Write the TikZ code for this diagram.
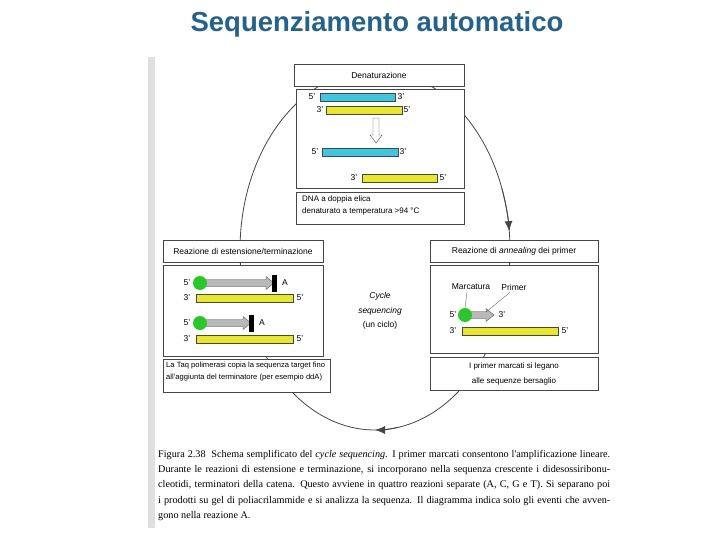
\documentclass[tikz,border=0pt]{standalone}
\usepackage{fontspec}
\setmainfont{Liberation Sans}
\newfontfamily\capfont{Liberation Serif}
\usetikzlibrary{arrows.meta, shapes.arrows, calc}
\definecolor{titleBlue}{RGB}{36, 98, 142}
\definecolor{dnaCyan}{RGB}{60, 200, 225}
\definecolor{dnaYellow}{RGB}{232, 232, 40}
\definecolor{markGreen}{RGB}{40, 200, 40}
\definecolor{primerGrey}{RGB}{185, 185, 185}
\definecolor{lineGrey}{RGB}{70, 70, 70}
\newcommand{\primerarrow}[3]{% start x, y, end x
    \filldraw[draw=lineGrey, fill=primerGrey, line width=0.3pt]
        (#1,#2-3.5) -- (#3-8,#2-3.5) -- (#3-8,#2-6.5) -- (#3,#2) -- (#3-8,#2+6.5)
        -- (#3-8,#2+3.5) -- (#1,#2+3.5) -- cycle;}

\begin{document}
\begin{tikzpicture} [
        x=1pt, y=-1pt,
        box/.style={draw=lineGrey, fill=white, line width=0.7pt},
        lbl/.style={font=\fontsize{8.5}{10}\selectfont, inner sep=0pt},
        cyanbar/.style={draw=lineGrey, fill=dnaCyan, line width=0.4pt},
        yellbar/.style={draw=lineGrey, fill=dnaYellow, line width=0.4pt},
        label dot/.style={circle, fill=markGreen, minimum size=14pt, inner sep=0pt},
        stop/.style={fill=black, minimum width=5pt, minimum height=17pt, inner sep=0pt},
        cycle arrow/.style={lineGrey, line width=0.8pt, -{Latex[length=10pt,width=8pt]}}
    ]
        \useasboundingbox (0,0) rectangle (720,540);
        \node[font=\bfseries\fontsize{27.5}{29}\selectfont, text=titleBlue] (title) at (377,24) {Sequenziamento automatico};

        % scanned page
        \fill[white] (148,57) rectangle (612,528);
        \fill[black!12] (148,57) rectangle (155,528);

        % cycle
        \coordinate (cc) at (375,250);
        \draw[lineGrey, line width=0.8pt] (cc) ellipse [x radius=135, y radius=180];
        \draw[cycle arrow] ($(cc)+(-20:135 and 180)$) arc [start angle=-20, end angle=-6, x radius=135, y radius=180];
        \draw[cycle arrow] ($(cc)+(80:135 and 180)$) arc [start angle=80, end angle=90, x radius=135, y radius=180];

        % Denaturazione
        \node[box, minimum width=170pt, minimum height=22pt] (denHead) at (379,75) {};
        \node[lbl] at (denHead) {Denaturazione};
        \draw[box] (296,89) rectangle (464,188);
        \draw[box] (296,192) rectangle (464,224);
        \filldraw[cyanbar] (320,93) rectangle (395,101);
        \filldraw[yellbar] (326,106) rectangle (402,114);
        \node[lbl] at (312,97) {5'}; \node[lbl] at (401,97) {3'};
        \node[lbl] at (320,110) {3'}; \node[lbl] at (407,110) {5'};
        \filldraw[draw=lineGrey, fill=white, line width=0.4pt] (373,118) -- (379,118) -- (379,135)
            -- (382,135) -- (376,143) -- (370,135) -- (373,135) -- cycle;
        \filldraw[cyanbar] (322,148) rectangle (398,156);
        \node[lbl] at (315,152) {5'}; \node[lbl] at (403,152) {3'};
        \filldraw[yellbar] (362,174) rectangle (437,182);
        \node[lbl] at (354,178) {3'}; \node[lbl] at (443,178) {5'};
        \node[lbl, align=left, anchor=north west, font=\fontsize{8}{12}\selectfont] (denText) at (302,196)
            {DNA a doppia elica\\denaturato a temperatura >94 °C};

        % Reazione di estensione/terminazione
        \node[box, minimum width=160pt, minimum height=22pt] (extHead) at (243,251) {};
        \node[lbl] at (extHead) {Reazione di estensione/terminazione};
        \draw[box] (163,265) rectangle (323,356);
        \draw[box] (163,359) rectangle (330,392);
        \node[lbl] at (187,283) {5'};
        \primerarrow{204}{283}{274}
        \node[label dot] (mark1) at (200,283) {};
        \node[stop] (stop1) at (274,283) {};
        \node[lbl] at (285,283) {A};
        \filldraw[yellbar] (196,294) rectangle (293,302);
        \node[lbl] at (187,298) {3'}; \node[lbl] at (300,298) {5'};
        \node[lbl] at (187,323) {5'};
        \primerarrow{204}{323}{251}
        \node[label dot] (mark2) at (200,323) {};
        \node[stop] (stop2) at (251,323) {};
        \node[lbl] at (262,323) {A};
        \filldraw[yellbar] (196,335) rectangle (293,343);
        \node[lbl] at (187,339) {3'}; \node[lbl] at (300,339) {5'};
        \node[lbl, align=left, anchor=north west, font=\fontsize{7.6}{12}\selectfont] (extText) at (166,362)
            {La Taq polimerasi copia la sequenza target fino\\all'aggiunta del terminatore (per esempio ddA)};

        % Cycle sequencing
        \node[lbl, align=center, font=\fontsize{8.5}{14.5}\selectfont] (cycle) at (380,311)
            {\itshape Cycle\\\itshape sequencing\\(un ciclo)};

        % Reazione di annealing dei primer
        \node[box, minimum width=168pt, minimum height=22pt] (annHead) at (514,251) {};
        \node[lbl] at (annHead) {Reazione di \textit{annealing} dei primer};
        \draw[box] (430,265) rectangle (598,353);
        \draw[box] (430,357) rectangle (598,390);
        \primerarrow{468}{315}{494}
        \coordinate (annPrimer) at (486,312);
        \node[label dot] (mark3) at (465,315) {};
        \node[lbl] at (453,315) {5'}; \node[lbl] at (502,315) {3'};
        \filldraw[yellbar] (462,327) rectangle (558,335);
        \node[lbl] at (453,331) {3'}; \node[lbl] at (565,331) {5'};
        \node[lbl] (marcatura) at (471,287) {Marcatura};
        \node[lbl] (primerLbl) at (514,287) {Primer};
        \draw[lineGrey, line width=0.3pt] (marcatura.south) ++(-4,2) -- (mark3.north);
        \draw[lineGrey, line width=0.3pt] (primerLbl.south) ++(-4,2) -- (annPrimer);
        \node[lbl, align=center, font=\fontsize{8}{15}\selectfont] (annText) at (514,374)
            {I primer marcati si legano\\alle sequenze bersaglio};

        % caption
        \node[anchor=north west, text width=452pt, inner sep=0pt, align=justify,
            font=\capfont\fontsize{10.2}{15.3}\selectfont] (caption) at (158,450)
            {Figura 2.38\ \ Schema semplificato del \textit{cycle sequencing}. I primer marcati consentono l'amplificazione lineare. Durante le reazioni di estensione e terminazione, si incorporano nella sequenza crescente i didesossiribonu-\linebreak cleotidi, terminatori della catena. Questo avviene in quattro reazioni separate (A, C, G e T). Si separano poi i prodotti su gel di poliacrilammide e si analizza la sequenza. Il diagramma indica solo gli eventi che avven-\linebreak gono nella reazione A.};
\end{tikzpicture}
\end{document}
